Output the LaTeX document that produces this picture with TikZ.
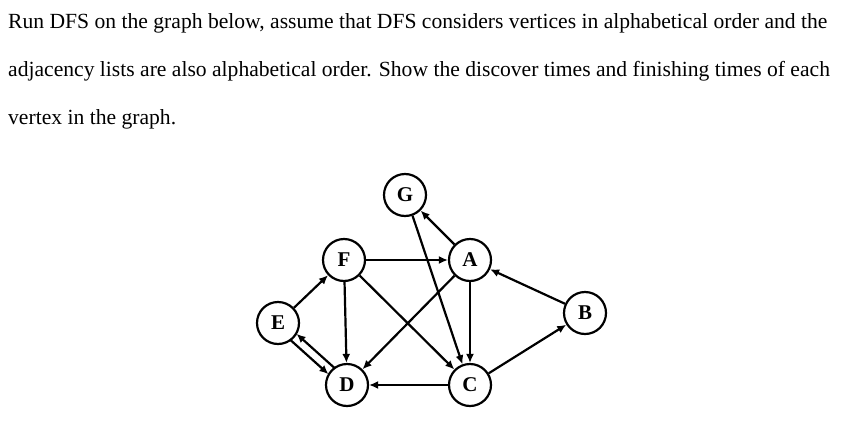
\documentclass[tikz,border=0pt]{standalone}
\usepackage{fontspec}
\setmainfont{Liberation Serif}
\usetikzlibrary{arrows.meta}
\begin{document}
\begin{tikzpicture}[x=1pt,y=-1pt,
  vert/.style={circle,draw,line width=2.2pt,minimum size=42pt,inner sep=0pt,font=\fontsize{21}{21}\selectfont\bfseries},
  edge/.style={line width=2.2pt,-{Latex[length=9pt,width=8pt]}},
  txt/.style={anchor=base west,inner sep=0pt,font=\fontsize{21.6}{22}\selectfont}]
\useasboundingbox (0,0) rectangle (858,439);
\node[txt] (t1) at (8,28) {Run DFS on the graph below, assume that DFS considers vertices in alphabetical order and the};
\node[txt] (t2) at (8,76) {adjacency lists are also alphabetical order. Show the discover times and finishing times of each};
\node[txt] (t3) at (8,124) {vertex in the graph.};
\node[vert] (G) at (405,195) {G};
\node[vert] (F) at (344,260) {F};
\node[vert] (A) at (470,260) {A};
\node[vert] (B) at (585,313) {B};
\node[vert] (E) at (278,323) {E};
\node[vert] (D) at (347,385) {D};
\node[vert] (C) at (470,385) {C};
\draw[edge] (A) -- (G);
\draw[edge] (F) -- (A);
\draw[edge] (B) -- (A);
\draw[edge] (E) -- (F);
\draw[edge] (F) -- (D);
\draw[edge] (F) -- (C);
\draw[edge] (A) -- (D);
\draw[edge] (A) -- (C);
\draw[edge] (G.-70) -- (C.110);
\draw[edge,shorten <=20pt,shorten >=21pt] ([shift={(-2.9,3.2)}]E.center) -- ([shift={(-2.9,3.2)}]D.center);
\draw[edge,shorten <=20pt,shorten >=21pt] ([shift={(2.9,-3.2)}]D.center) -- ([shift={(2.9,-3.2)}]E.center);
\draw[edge] (C) -- (D);
\draw[edge] (C) -- (B);
\end{tikzpicture}
\end{document}
